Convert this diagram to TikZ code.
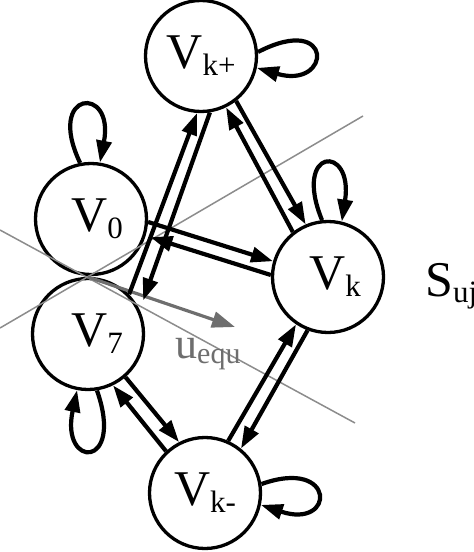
\documentclass[tikz,border=0pt]{standalone}
\usepackage{fontspec}
\setmainfont{Liberation Serif}
\usetikzlibrary{arrows.meta}
\definecolor{gline}{RGB}{140,140,140}
\definecolor{garrow}{RGB}{110,110,110}
\newcommand{\vlab}[1]{{\fontsize{50}{50}\selectfont V}{\fontsize{31}{31}\selectfont\raisebox{-7pt}{#1}}}
\begin{document}
\begin{tikzpicture}[x=1pt,y=-1pt,
  state/.style={circle,draw,line width=3.3pt,minimum size=111pt,inner sep=0pt},
  conn/.style={line width=4.2pt,-{Triangle[length=22pt,width=15pt]}},
  selfloop/.style={line width=4.2pt,-{Triangle[length=22pt,width=15pt]}},
  guide/.style={draw=gline,line width=1.5pt},
  vec/.style={draw=garrow,line width=3.2pt,-{Triangle[length=23pt,width=16pt]}}]
\useasboundingbox (0,0) rectangle (474,552);
% states
\node[state] (Vkp) at (201,56) {\vlab{k+}};
\node[state] (V0) at (91,219) {\hspace*{12pt}\vlab{0}};
\node[state] (Vk) at (328,277) {\hspace*{14pt}\vlab{k}};
\node[state] (V7) at (88,334) {\hspace*{18pt}\vlab{7}};
\node[state] (Vkm) at (205,493) {\vlab{k-}};
% guide lines and vector
\coordinate (L1a) at (0,230);
\coordinate (L1b) at (355,423);
\coordinate (L2a) at (0,328);
\coordinate (L2b) at (363,116);
\coordinate (O) at (88,277);
\coordinate (E) at (235,327);
\draw[guide] (L1a) -- (L1b);
\draw[guide] (L2a) -- (L2b);
\draw[vec] (O) -- (E);
\node[anchor=base west,inner sep=0pt,text=garrow] (ueq) at (175,358)
  {{\fontsize{44}{44}\selectfont u}{\fontsize{30}{30}\selectfont\raisebox{-5pt}{equ}}};
\node[anchor=base west,inner sep=0pt] (S) at (425,296)
  {{\fontsize{50}{50}\selectfont S}{\fontsize{31}{31}\selectfont\raisebox{-6pt}{uj}}};
% double connectors
\draw[conn] (V7.44) -- (Vkp.266);
\draw[conn,shorten >=10pt] (Vkp.279) -- (V7.25);
\draw[conn] (V0.357) -- (Vk.164);
\draw[conn,shorten >=5pt] (Vk.178) -- (V0.343);
\draw[conn] (Vk.128) -- (Vkp.296);
\draw[conn] (Vkp.308) -- (Vk.113);
\draw[conn] (V7.311) -- (Vkm.117);
\draw[conn] (Vkm.133) -- (V7.296);
\draw[conn] (Vkm.66) -- (Vk.236);
\draw[conn] (Vk.249) -- (Vkm.51);
% self loops
\draw[selfloop] (Vkp.4) .. controls +(77,-40) and +(75,22) .. (Vkp.348);
\draw[selfloop] (V0.101) .. controls +(-35,-73) and +(15,-78) .. (V0.81);
\draw[selfloop] (Vk.96) .. controls +(-30,-73) and +(12,-78) .. (Vk.76);
\draw[selfloop] (V7.279) .. controls +(28,79) and +(-17,79) .. (V7.259);
\draw[selfloop] (Vkm.9) .. controls +(75,-27) and +(75,25) .. (Vkm.348);
\end{tikzpicture}
\end{document}
